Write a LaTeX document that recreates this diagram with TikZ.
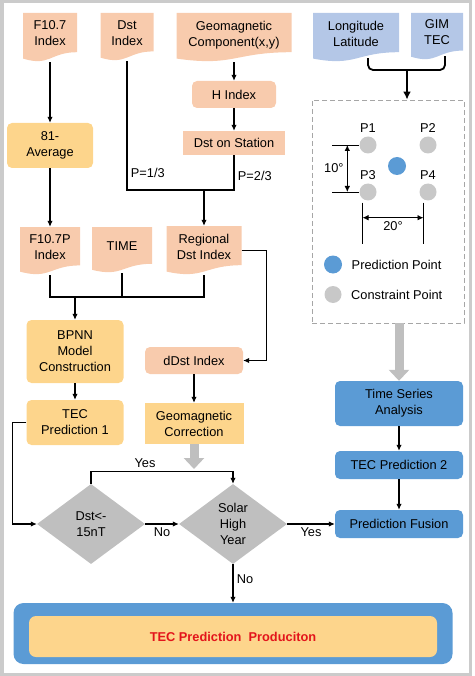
\documentclass[tikz,border=0pt]{standalone}
\usepackage{fontspec}
\setmainfont{Liberation Sans}
\usetikzlibrary{shapes.geometric,arrows.meta,positioning,calc}

\definecolor{peach}{HTML}{F8CBAD}
\definecolor{gold}{HTML}{FDD58C}
\definecolor{steel}{HTML}{5B9BD5}
\definecolor{sky}{HTML}{B4C7E7}
\definecolor{stone}{HTML}{BFBFBF}
\definecolor{dotgray}{HTML}{C8C8C8}
\definecolor{zgray}{HTML}{A6A6A6}
\definecolor{rim}{HTML}{CBCBCB}
\definecolor{alert}{HTML}{E3141B}

\newcommand{\chartfont}{\fontsize{12.8}{16}\selectfont}

\tikzset{
  doc/.style={rectangle, inner sep=2pt, align=center, text depth=8pt,
    path picture={\fill[#1] let \p1=(path picture bounding box.south west),
      \p2=(path picture bounding box.north east) in
      (\x1,\y2) -- (\x2,\y2) -- (\x2,{\y1+0.2*(\y2-\y1)})
      .. controls ({0.5*(\x1+\x2)},{\y1+0.2*(\y2-\y1)}) and ({0.5*(\x1+\x2)},{\y1-0.1*(\y2-\y1)})
      .. (\x1,{\y1+0.07*(\y2-\y1)}) -- cycle;}},
  box/.style={rectangle, rounded corners=5pt, inner sep=2pt, align=center},
  sqbox/.style={rectangle, inner sep=2pt, align=center},
  decision/.style={diamond, fill=stone, aspect=1.35, inner sep=0pt,
    minimum width=108pt, minimum height=80pt, align=center},
  zonebox/.style={draw=zgray, dash pattern=on 5pt off 3pt, line width=0.9pt},
  gdot/.style={circle, fill=dotgray, minimum size=17pt, inner sep=0pt, label distance=3pt},
  bdot/.style={circle, fill=steel, minimum size=18pt, inner sep=0pt},
  flow/.style={->, line width=1.1pt},
  link/.style={line width=1.1pt},
  measure/.style={line width=0.9pt},
  fat/.style={draw=stone, line width=9pt, -{Triangle[length=11pt,width=20pt]}},
  brace/.style={line width=1.8pt, rounded corners=5pt}
}

\begin{document}
\begin{tikzpicture}[x=1pt, y=-1pt, font=\chartfont, >={Latex[length=6pt,width=5.5pt]}]
  \useasboundingbox (0,0) rectangle (474,676);
  % Frame
  \draw[rim, line width=3.5pt] (1.75,1.75) rectangle (470.5,674.25);

  % Input data
  \node[doc=peach, minimum width=54pt, minimum height=49pt] (f107) at (50,37.5) {F10.7\\Index};
  \node[doc=peach, minimum width=53pt, minimum height=48pt] (dst) at (127,37) {Dst\\Index};
  \node[doc=peach, minimum width=115pt, minimum height=49pt] (geo) at (234,37.5) {Geomagnetic\\Component(x,y)};
  \node[doc=sky, minimum width=86pt, minimum height=49pt] (lonlat) at (356,37.5) {Longitude\\Latitude};
  \node[doc=sky, minimum width=52pt, minimum height=47pt] (gim) at (437,36.5) {GIM\\TEC};

  % Left column
  \node[box, fill=peach, minimum width=84pt, minimum height=27pt] (hidx) at (234,94.5) {H Index};
  \node[sqbox, fill=peach, minimum width=102pt, minimum height=24pt] (dstst) at (234,143) {Dst on Station};
  \node[box, fill=gold, minimum width=86pt, minimum height=45pt] (avg) at (50,145.5) {81-\\Average};
  \node[doc=peach, minimum width=60pt, minimum height=48pt] (f107p) at (50,251) {F10.7P\\Index};
  \node[doc=peach, minimum width=60pt, minimum height=46pt] (time) at (122,250) {TIME};
  \node[doc=peach, minimum width=75pt, minimum height=49pt] (rdst) at (204,250.5) {Regional\\Dst Index};
  \node[box, fill=gold, minimum width=97pt, minimum height=63pt] (bpnn) at (75,351.5) {BPNN\\Model\\Construction};
  \node[box, fill=peach, minimum width=98pt, minimum height=27pt] (ddst) at (194,360.5) {dDst Index};
  \node[box, fill=gold, minimum width=97pt, minimum height=45pt] (tec1) at (75,422.5) {TEC\\Prediction 1};
  \node[sqbox, fill=gold, minimum width=99pt, minimum height=41pt] (gcorr) at (194,423.5) {Geomagnetic\\Correction};
  \node[decision] (dsttest) at (91,524) {Dst<-\\15nT};
  \node[decision] (solar) at (233,524) {Solar\\High\\Year};

  % Grid zone
  \node[zonebox, minimum width=152pt, minimum height=223pt] (zone) at (388,211.5) {};
  \node[gdot, label={[name=lp1]above:P1}] (p1) at (368,145) {};
  \node[gdot, label={[name=lp2]above:P2}] (p2) at (428,145) {};
  \node[gdot, label={[name=lp3]above:P3}] (p3) at (368,192) {};
  \node[gdot, label={[name=lp4]above:P4}] (p4) at (428,192) {};
  \node[bdot] (pp) at (397,166) {};
  \draw[measure] ([xshift=-27pt]p1.west) -- (p1.west);
  \draw[measure] ([xshift=-27pt]p3.west) -- (p3.west);
  \draw[measure, <->] ([xshift=-12pt]p1.west) -- node[left] (deg10) {10°} ([xshift=-12pt]p3.west);
  \draw[measure] ([xshift=-5.5pt,yshift=-2pt]p3.south) -- ([xshift=-5.5pt,yshift=-43pt]p3.south);
  \draw[measure] ([xshift=-4.5pt,yshift=-2pt]p4.south) -- ([xshift=-4.5pt,yshift=-43pt]p4.south);
  \draw[measure, <->] ([xshift=-5.5pt,yshift=-17pt]p3.south) -- node[below] (deg20) {20°} ([xshift=-4.5pt,yshift=-17pt]p4.south);
  \node[bdot] (leg1) at (333,264.5) {};
  \node[right=6pt of leg1] (leg1t) {Prediction Point};
  \node[gdot] (leg2) at (333,294.5) {};
  \node[right=6pt of leg2] (leg2t) {Constraint Point};

  % Right column
  \node[box, fill=steel, minimum width=128pt, minimum height=45pt] (tsa) at (399,403.5) {Time Series\\Analysis};
  \node[box, fill=steel, minimum width=128pt, minimum height=28pt] (tec2) at (399,465) {TEC Prediction 2};
  \node[box, fill=steel, minimum width=128pt, minimum height=28pt] (fusion) at (399,524) {Prediction Fusion};

  % Output
  \node[box, fill=steel, rounded corners=10pt, minimum width=439pt, minimum height=61pt] (final) at (233,633.5) {};
  \node[box, fill=gold, rounded corners=7pt, minimum width=408pt, minimum height=41pt,
    text=alert, font=\chartfont\bfseries] (finalin) at (233,636.5) {TEC Prediction\ \ Produciton};

  % Connectors
  \draw[flow] (f107) -- (avg);
  \draw[flow] (avg) -- (f107p);
  \draw[flow] (geo) -- (hidx);
  \draw[flow] (hidx) -- (dstst);
  \coordinate (jdst) at (204,190);
  \draw[link] (dst.south) |- node[pos=0.434, right] (w13) {P=1/3} (jdst);
  \draw[link] (dstst.south) |- node[pos=0.3, right] (w23) {P=2/3} (jdst);
  \draw[flow] (jdst) -- (rdst);
  \coordinate (jin) at (75,297);
  \draw[link] (f107p.south) |- (jin);
  \draw[link] (time.south) |- (jin);
  \draw[link] (rdst.south) |- (jin);
  \draw[flow] (jin) -- (bpnn);
  \draw[flow] (bpnn) -- (tec1);
  \draw[flow] (rdst.east) -- ++(25,0) |- (ddst.east);
  \draw[flow] (ddst) -- (gcorr);
  \coordinate (gtip) at (194,469);
  \draw[fat] (gcorr.south) -- (gtip);
  \draw[flow] (tec1.west) -- ++(-14,0) |- (dsttest.west);
  \draw[flow] (dsttest.north) -- ++(0,-12) -| node[pos=0.19, above] (yes1) {Yes} (solar.north);
  \draw[flow] (dsttest.east) -- node[below] (no1) {No} (solar.west);
  \draw[flow] (solar.east) -- node[below] (yes2) {Yes} (fusion.west);
  \draw[flow] (solar.south) -- node[pos=0.4, right] (no2) {No} (final.north);
  \coordinate (brk) at (407,70);
  \draw[brace] ([xshift=12pt,yshift=4pt]lonlat.south) |- (brk) -| ([xshift=8pt,yshift=4pt]gim.south);
  \draw[brace, -{Latex[length=8pt,width=8pt]}] (brk) -- (brk |- zone.north);
  \draw[fat] (tsa.north |- zone.south) -- (tsa.north);
  \draw[flow] (tsa) -- (tec2);
  \draw[flow] (tec2) -- (fusion);
\end{tikzpicture}
\end{document}
